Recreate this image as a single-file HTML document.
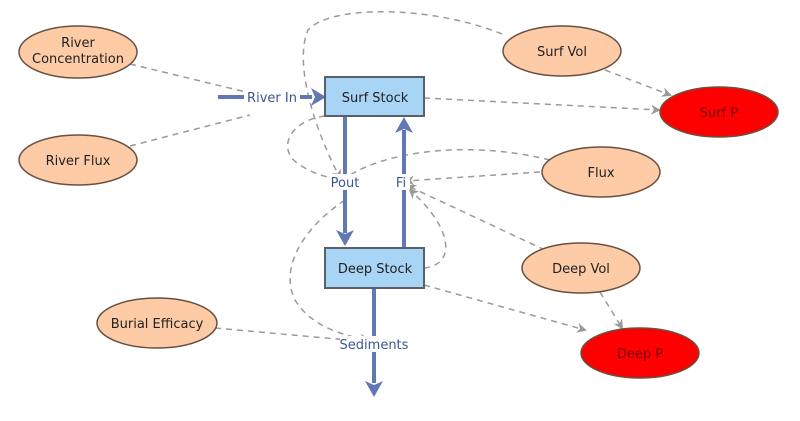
<!DOCTYPE html>
<html><head><meta charset="utf-8"><style>
html,body{margin:0;padding:0;background:#fff;}
svg{display:block;}
text{font-family:"DejaVu Sans","Liberation Sans",sans-serif;font-size:13px;}
</style></head><body>
<svg width="800" height="421" viewBox="0 0 800 421" xmlns="http://www.w3.org/2000/svg">
<defs>
<marker id="ga" markerWidth="10" markerHeight="10" refX="8" refY="5" orient="auto" markerUnits="userSpaceOnUse"><path d="M0,0 L10,5 L0,10 L3,5 Z" fill="#999"/></marker>
</defs>
<g fill="none" stroke="#9a9a9a" stroke-width="1.5" stroke-dasharray="6,5">
<path d="M130,64 L250,93"/>
<path d="M130,146 L250,115"/>
<path d="M424,98 L659,110" marker-end="url(#ga)"/>
<path d="M605,70 L670,95" marker-end="url(#ga)"/>
<path d="M502,34 C430,5 330,5 308,30 C295,60 310,120 340,178" marker-end="url(#ga)"/>
<path d="M325,116 C290,120 275,150 300,165 C315,175 330,178 342,180" marker-end="url(#ga)"/>
<path d="M540,172 L406,181" marker-end="url(#ga)"/>
<path d="M550,160 C470,140 380,150 340,182" marker-end="url(#ga)"/>
<path d="M545,250 L408,186" marker-end="url(#ga)"/>
<path d="M424,268 C455,265 455,230 410,190" marker-end="url(#ga)"/>
<path d="M424,285 L585,330" marker-end="url(#ga)"/>
<path d="M600,292 L622,328" marker-end="url(#ga)"/>
<path d="M215,328 L370,342" marker-end="url(#ga)"/>
<path d="M345,200 C300,230 280,270 295,300 C310,325 340,335 368,340" marker-end="url(#ga)"/>
</g>
<g stroke="#6078b4" stroke-width="4" fill="none">
<line x1="218" y1="97" x2="312" y2="97"/>
<line x1="345" y1="116" x2="345" y2="233"/>
<line x1="404" y1="247" x2="404" y2="130"/>
<line x1="374" y1="288" x2="374" y2="383"/>
</g>
<g fill="#6078b4">
<path d="M311,88 L326,97 L311,106 L315,97 Z"/>
<path d="M336,230 L345,246 L354,230 L345,234 Z"/>
<path d="M395,133 L404,117 L413,133 L404,129 Z"/>
<path d="M365,381 L374,397 L383,381 L374,385 Z"/>
</g>
<g fill="#fff">
<rect x="244" y="89" width="56" height="16"/>
<rect x="330" y="174" width="30" height="16"/>
<rect x="392" y="174" width="18" height="16"/>
<rect x="340" y="336" width="70" height="16"/>
</g>
<g fill="#3d5590" text-anchor="middle" font-size="13">
<text x="272" y="102">River In</text>
<text x="345" y="187">Pout</text>
<text x="401" y="187">Fi</text>
<text x="374" y="349">Sediments</text>
</g>
<rect x="325" y="77" width="99" height="39" fill="#a8d4f5" stroke="#5a6068" stroke-width="2"/>
<rect x="325" y="248" width="99" height="40" fill="#a8d4f5" stroke="#5a6068" stroke-width="2"/>
<g fill="#222" text-anchor="middle">
<text x="375" y="102">Surf Stock</text>
<text x="375" y="273">Deep Stock</text>
</g>
<g stroke="#6a5040" stroke-width="1.5">
<ellipse cx="78" cy="52" rx="59" ry="26" fill="#fdcba6"/>
<ellipse cx="78" cy="160" rx="59" ry="25" fill="#fdcba6"/>
<ellipse cx="157" cy="323" rx="60" ry="25" fill="#fdcba6"/>
<ellipse cx="562" cy="51" rx="59" ry="25" fill="#fdcba6"/>
<ellipse cx="601" cy="172" rx="59" ry="25" fill="#fdcba6"/>
<ellipse cx="581" cy="268" rx="59" ry="25" fill="#fdcba6"/>
<ellipse cx="719" cy="112" rx="59" ry="25" fill="#ff0000"/>
<ellipse cx="640" cy="353" rx="59" ry="25" fill="#ff0000"/>
</g>
<g fill="#222" text-anchor="middle" font-size="12">
<text x="78" y="47">River</text>
<text x="78" y="63">Concentration</text>
<text x="78" y="165">River Flux</text>
<text x="157" y="328">Burial Efficacy</text>
<text x="562" y="56">Surf Vol</text>
<text x="601" y="177">Flux</text>
<text x="581" y="273">Deep Vol</text>
</g>
<g fill="#7a0000" text-anchor="middle" font-size="12">
<text x="719" y="117">Surf P</text>
<text x="640" y="358">Deep P</text>
</g>
</svg>
</body></html>
